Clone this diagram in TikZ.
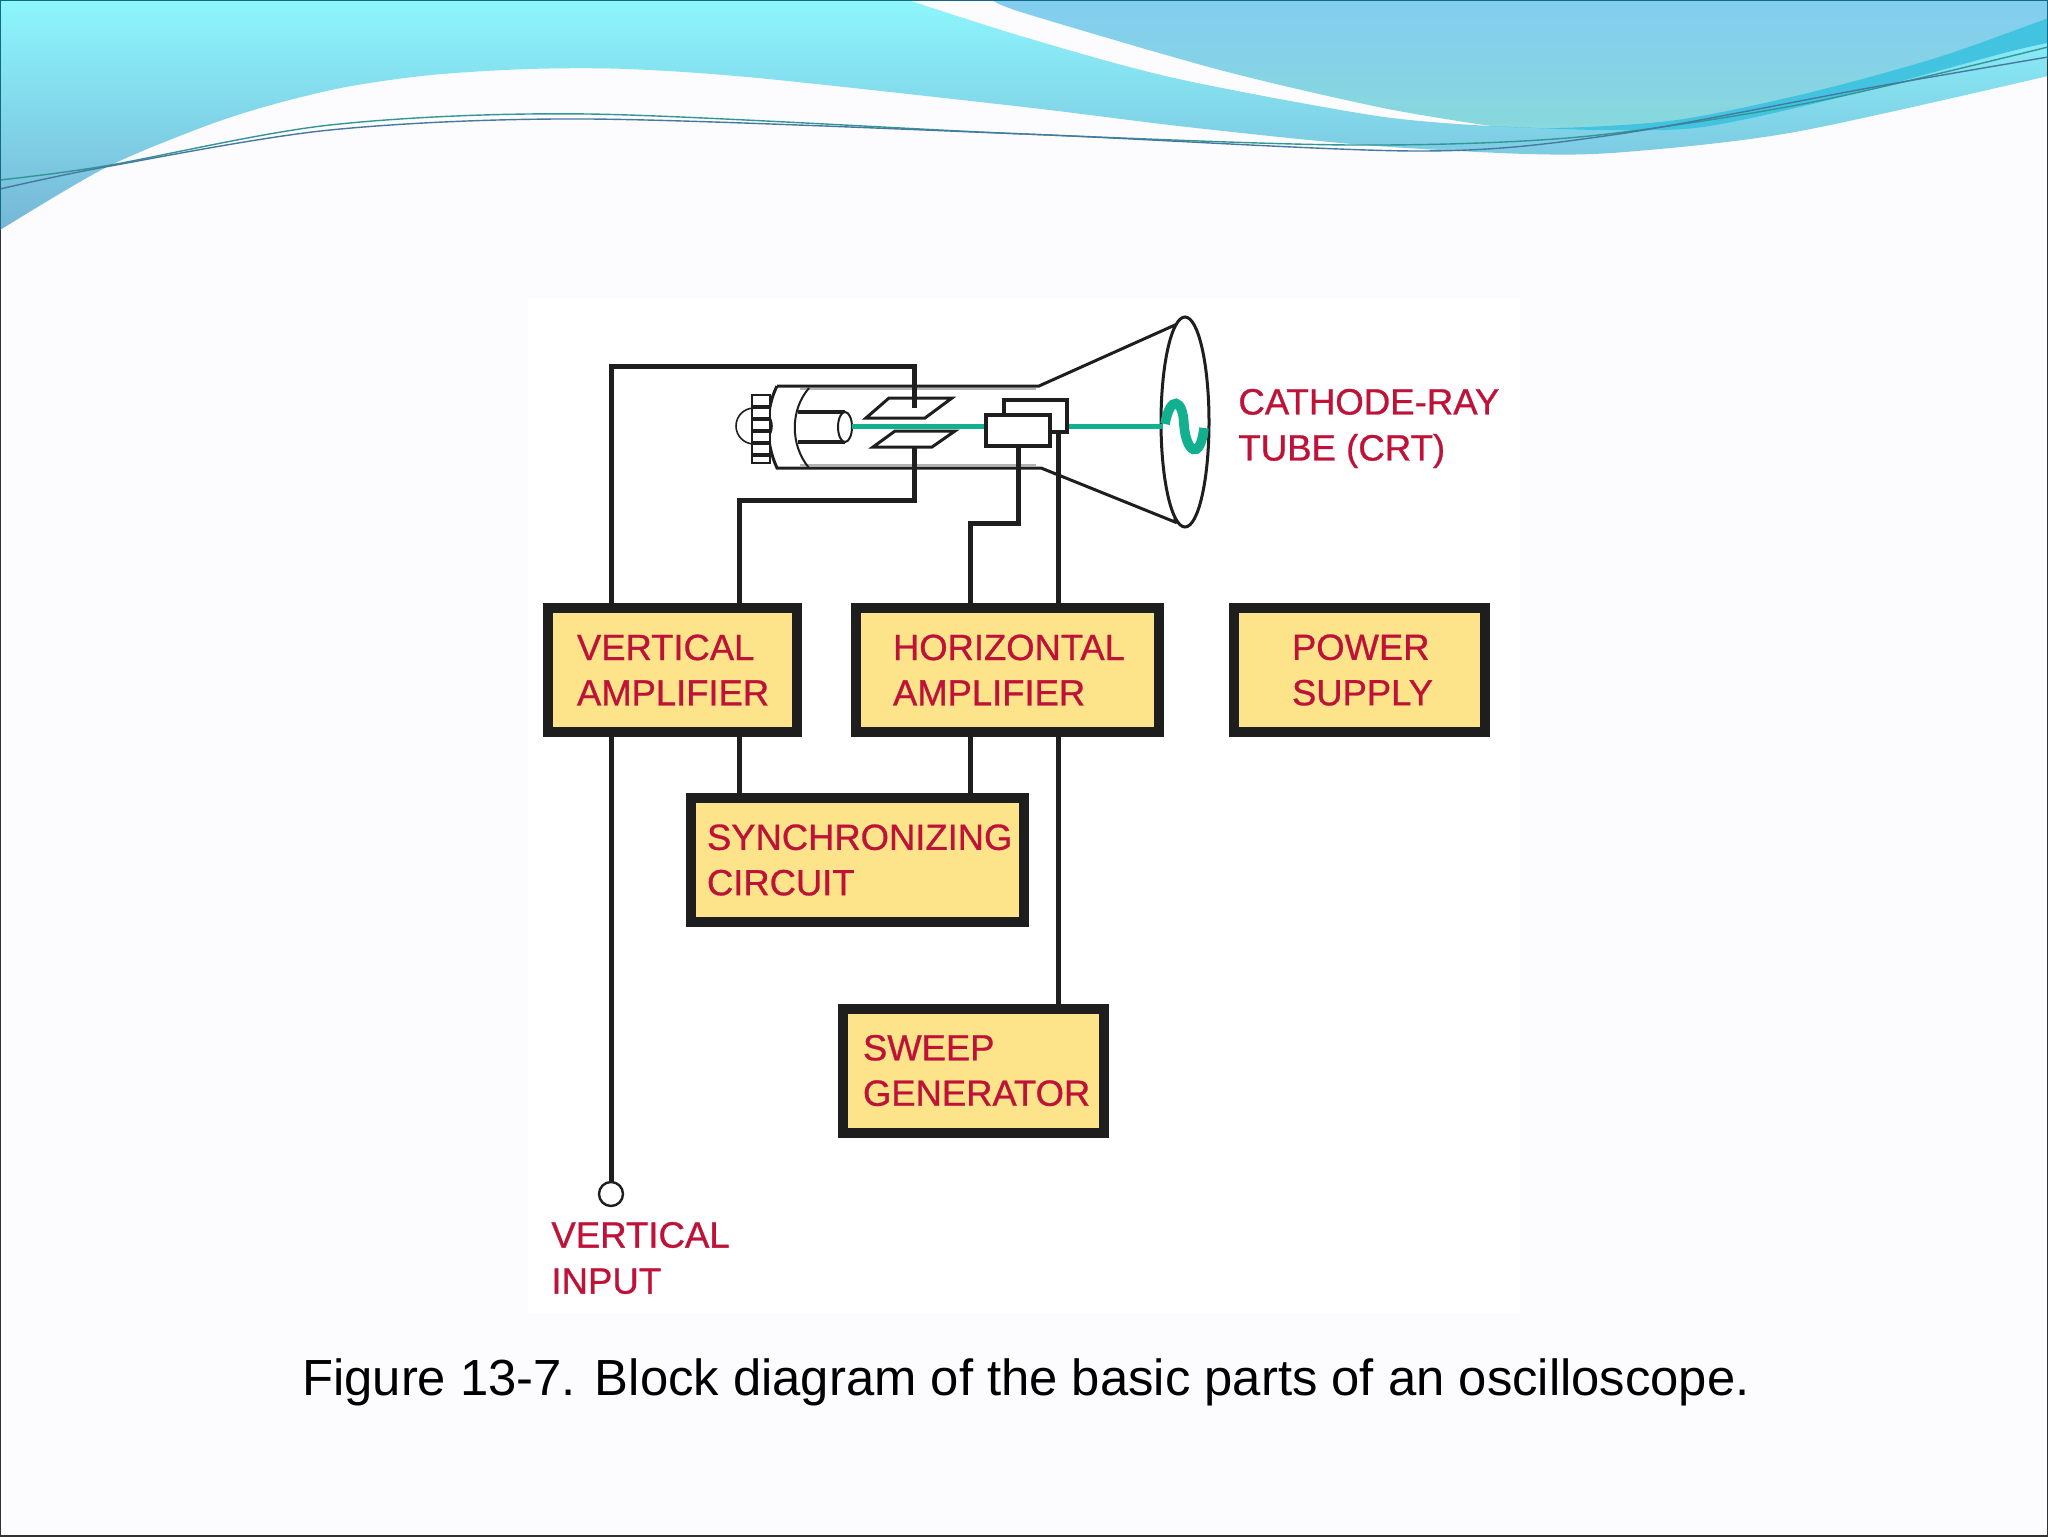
\documentclass[tikz,border=0pt]{standalone}
\usepackage{fontspec}
\setmainfont{Liberation Sans}
\newfontfamily\blockfont[FakeBold=0.8]{Liberation Sans}
\usetikzlibrary{positioning, calc}
\definecolor{slidebg}{RGB}{252,251,253}
\definecolor{framecolor}{RGB}{20,105,130}
\definecolor{edgecolor}{RGB}{50,50,50}
\definecolor{cyantop}{RGB}{141,246,252}
\definecolor{cyanlow}{RGB}{118,182,214}
\definecolor{bluetop}{RGB}{130,205,240}
\definecolor{bluelow}{RGB}{136,216,220}
\definecolor{tealband}{RGB}{66,196,224}
\definecolor{swooshA}{RGB}{50,150,150}
\definecolor{swooshB}{RGB}{70,120,160}
\definecolor{blockfill}{RGB}{253,228,138}
\definecolor{labelred}{RGB}{190,18,56}
\definecolor{wirecolor}{RGB}{30,30,30}
\definecolor{beamcolor}{RGB}{18,176,142}
\uchyph=0

\begin{document}
\begin{tikzpicture}[x=0.5pt, y=-0.5pt,
  % Node styles
  blockbox/.style={
    rectangle,
    draw=wirecolor,
    line width=5pt,
    fill=blockfill,
    minimum height=62pt,
    align=left,
    text=labelred,
    outer sep=0pt,
    inner ysep=0pt,
    font=\blockfont\fontsize{18.2}{22.7}\selectfont
  },
  redlabel/.style={
    anchor=west,
    align=left,
    text=labelred,
    inner sep=0pt,
    font=\blockfont\fontsize{18.3}{23}\selectfont
  },
  deflbox/.style={
    rectangle,
    draw=wirecolor,
    line width=2.4pt,
    fill=white,
    outer sep=0pt,
    inner sep=0pt
  },
  wire/.style={draw=wirecolor, line width=2.5pt},
  tube/.style={draw=wirecolor, line width=1.5pt},
  beam/.style={draw=beamcolor, line width=2.5pt},
  swoosh/.style={line width=0.7pt}
]
\useasboundingbox (0,0) rectangle (2048,1536);

% ===== SLIDE BACKGROUND =====
\fill[slidebg] (0,0) rectangle (2048,1536);
\shade[top color=cyantop, bottom color=cyanlow]
  (0,0) -- (908,0)
  -- plot[smooth] coordinates {(908,0) (1024,37) (1174,78) (1377,116) (1491,126)}
  -- (2048,20) -- (2048,76)
  -- plot[smooth] coordinates {(2048,76) (1795,132) (1625,152) (1527,154) (1364,145) (1187,127) (1024,107) (758,78) (627,69) (529,69) (431,75) (346,87) (271,105) (203,127) (105,168) (0,230)}
  -- cycle;
\shade[top color=bluetop, bottom color=bluelow]
  (993,0) -- (2048,0) -- (2048,18)
  -- plot[smooth] coordinates {(2048,18) (1939,57) (1808,93) (1677,120) (1560,128) (1491,126)}
  -- plot[smooth] coordinates {(1491,126) (1383,108) (1220,70) (1024,13) (993,0)}
  -- cycle;
\fill[tealband]
  plot[smooth] coordinates {(1491,126) (1560,128) (1677,120) (1808,93) (1939,57) (2048,18)}
  -- plot[smooth] coordinates {(2048,43) (2004,53) (1841,97) (1703,127) (1600,130) (1491,126)}
  -- cycle;
\draw[swoosh, swooshA] plot[smooth] coordinates {(0,180) (105,166) (330,125) (588,114) (1024,134) (1351,145) (1579,137) (1808,103) (2048,47)};
\draw[swoosh, swooshB] plot[smooth] coordinates {(0,189) (105,167) (330,130) (588,119) (1024,134) (1416,151) (1612,135) (1874,87) (2048,57)};
\draw[edgecolor, line width=1.2pt] (0,230) -- (0,1536) -- (2048,1536) -- (2048,60);
\draw[framecolor, line width=1pt] (0,230) -- (0,0) -- (2048,0) -- (2048,60);
\fill[white] (528,298) rectangle (1520,1313);

% ===== CATHODE-RAY TUBE =====
\draw[tube, fill=white] (777,386) -- (1039,386) -- (1175,325) -- (1175,522) -- (1041,468) -- (777,468)
  .. controls (765,442) and (765,410) .. (777,386);
\draw[tube, gray!60, line width=1pt] (800,389) -- (1036,389) (800,465) -- (1036,465);
\draw[tube, line width=1pt] (809,388) .. controls (790,410) and (790,445) .. (809,468);
\draw[tube, line width=0.8pt, fill=white] (754,426) circle (18);
\fill[white] (752,395) rectangle (770,463);
\draw[tube, line width=1pt] (752,395) rectangle (770,463);
\foreach \rowy in {407,419,431,443,455}
  \draw[wirecolor, line width=1.6pt] (752,\rowy) -- (770,\rowy);
% electron gun
\draw[wirecolor, line width=2pt] (798,412) -- (845,412) (798,442) -- (845,442);
\draw[tube, line width=1pt, fill=white] (845,427) ellipse (7 and 15);
% screen
\draw[tube, fill=white] (1185,422) ellipse (24 and 105);
% beam and trace
\draw[beam] (852,426) -- (986,426);
\draw[beam] (1067,426) -- (1163,426);
\draw[beamcolor, line width=4.8pt] (1165,424) .. controls (1170,395) and (1183,398) .. (1184,425)
  .. controls (1186,452) and (1200,462) .. (1204,428);
% deflection plates
\draw[tube, fill=white] (866,418) -- (889,398) -- (952,398) -- (925,418) -- cycle;
\draw[tube, fill=white] (873,447) -- (895,431) -- (955,431) -- (932,447) -- cycle;
\node[deflbox, minimum width=31.5pt, minimum height=16pt] (hback) at (1035.5,416) {};
\node[deflbox, minimum width=32pt, minimum height=15.5pt] (hfront) at (1018,430.5) {};

% ===== BLOCKS =====
\node[blockbox, minimum width=124.5pt, text width=95.5pt, inner xsep=14.5pt] (vamp) at (672.5,670) {VERTICAL\\AMPLIFIER};
\node[blockbox, minimum width=151.5pt, text width=114.5pt, inner xsep=18.5pt] (hamp) at (1007.5,670) {HORIZONTAL\\AMPLIFIER};
\node[blockbox, minimum width=125.5pt, text width=67.5pt, inner xsep=29pt] (power) at (1359.5,670) {POWER\\SUPPLY};
\node[blockbox, minimum width=166.5pt, text width=150.5pt, inner xsep=8pt] (sync) at (857.5,860) {SYNCHRONIZING\\CIRCUIT};
\node[blockbox, minimum width=130.5pt, text width=110.5pt, inner xsep=10pt] (sweep) at (973.5,1070.5) {SWEEP\\GENERATOR};

\node[circle, draw=wirecolor, line width=1.2pt, fill=white, minimum size=12pt, inner sep=0pt, outer sep=0pt] (vin) at (611,1194) {};

% ===== LABELS =====
\node[redlabel] (crtlabel) at (1238,428.5) {CATHODE-RAY\\TUBE (CRT)};
\node[redlabel] (vinlabel) at (551,1258) {VERTICAL\\INPUT};
\node[font=\fontsize{25.4}{29}\selectfont, inner sep=0pt] (caption) at (1026,1382) {Figure 13-7. Block diagram of the basic parts of an oscilloscope.};

% ===== WIRES =====
\coordinate (vtop) at (914,366);
\coordinate (vplateup) at (914,408);
\coordinate (vplatelow) at (914,447);
\coordinate (vjog) at (739,500);
\coordinate (hjog) at (970,523);
\coordinate (sweepx) at (1058,603);

\draw[wire] (vin |- vamp.north) -- (vin |- vtop) -- (vtop) -- (vplateup);
\draw[wire] (vjog |- vamp.north) -- (vjog) -- (vjog -| vplatelow) -- (vplatelow);
\draw[wire] (vin |- vamp.south) -- (vin);
\draw[wire] (vjog |- vamp.south) -- (vjog |- sync.north);

\draw[wire] (hjog |- hamp.north) -- (hjog) -- (hjog -| hfront.south) -- (hfront.south);
\draw[wire] (hjog |- hamp.south) -- (hjog |- sync.north);
\draw[wire] (sweepx |- hback.south) -- (sweepx |- hamp.north);
\draw[wire] (sweepx |- hamp.south) -- (sweepx |- sweep.north);

\end{tikzpicture}
\end{document}
